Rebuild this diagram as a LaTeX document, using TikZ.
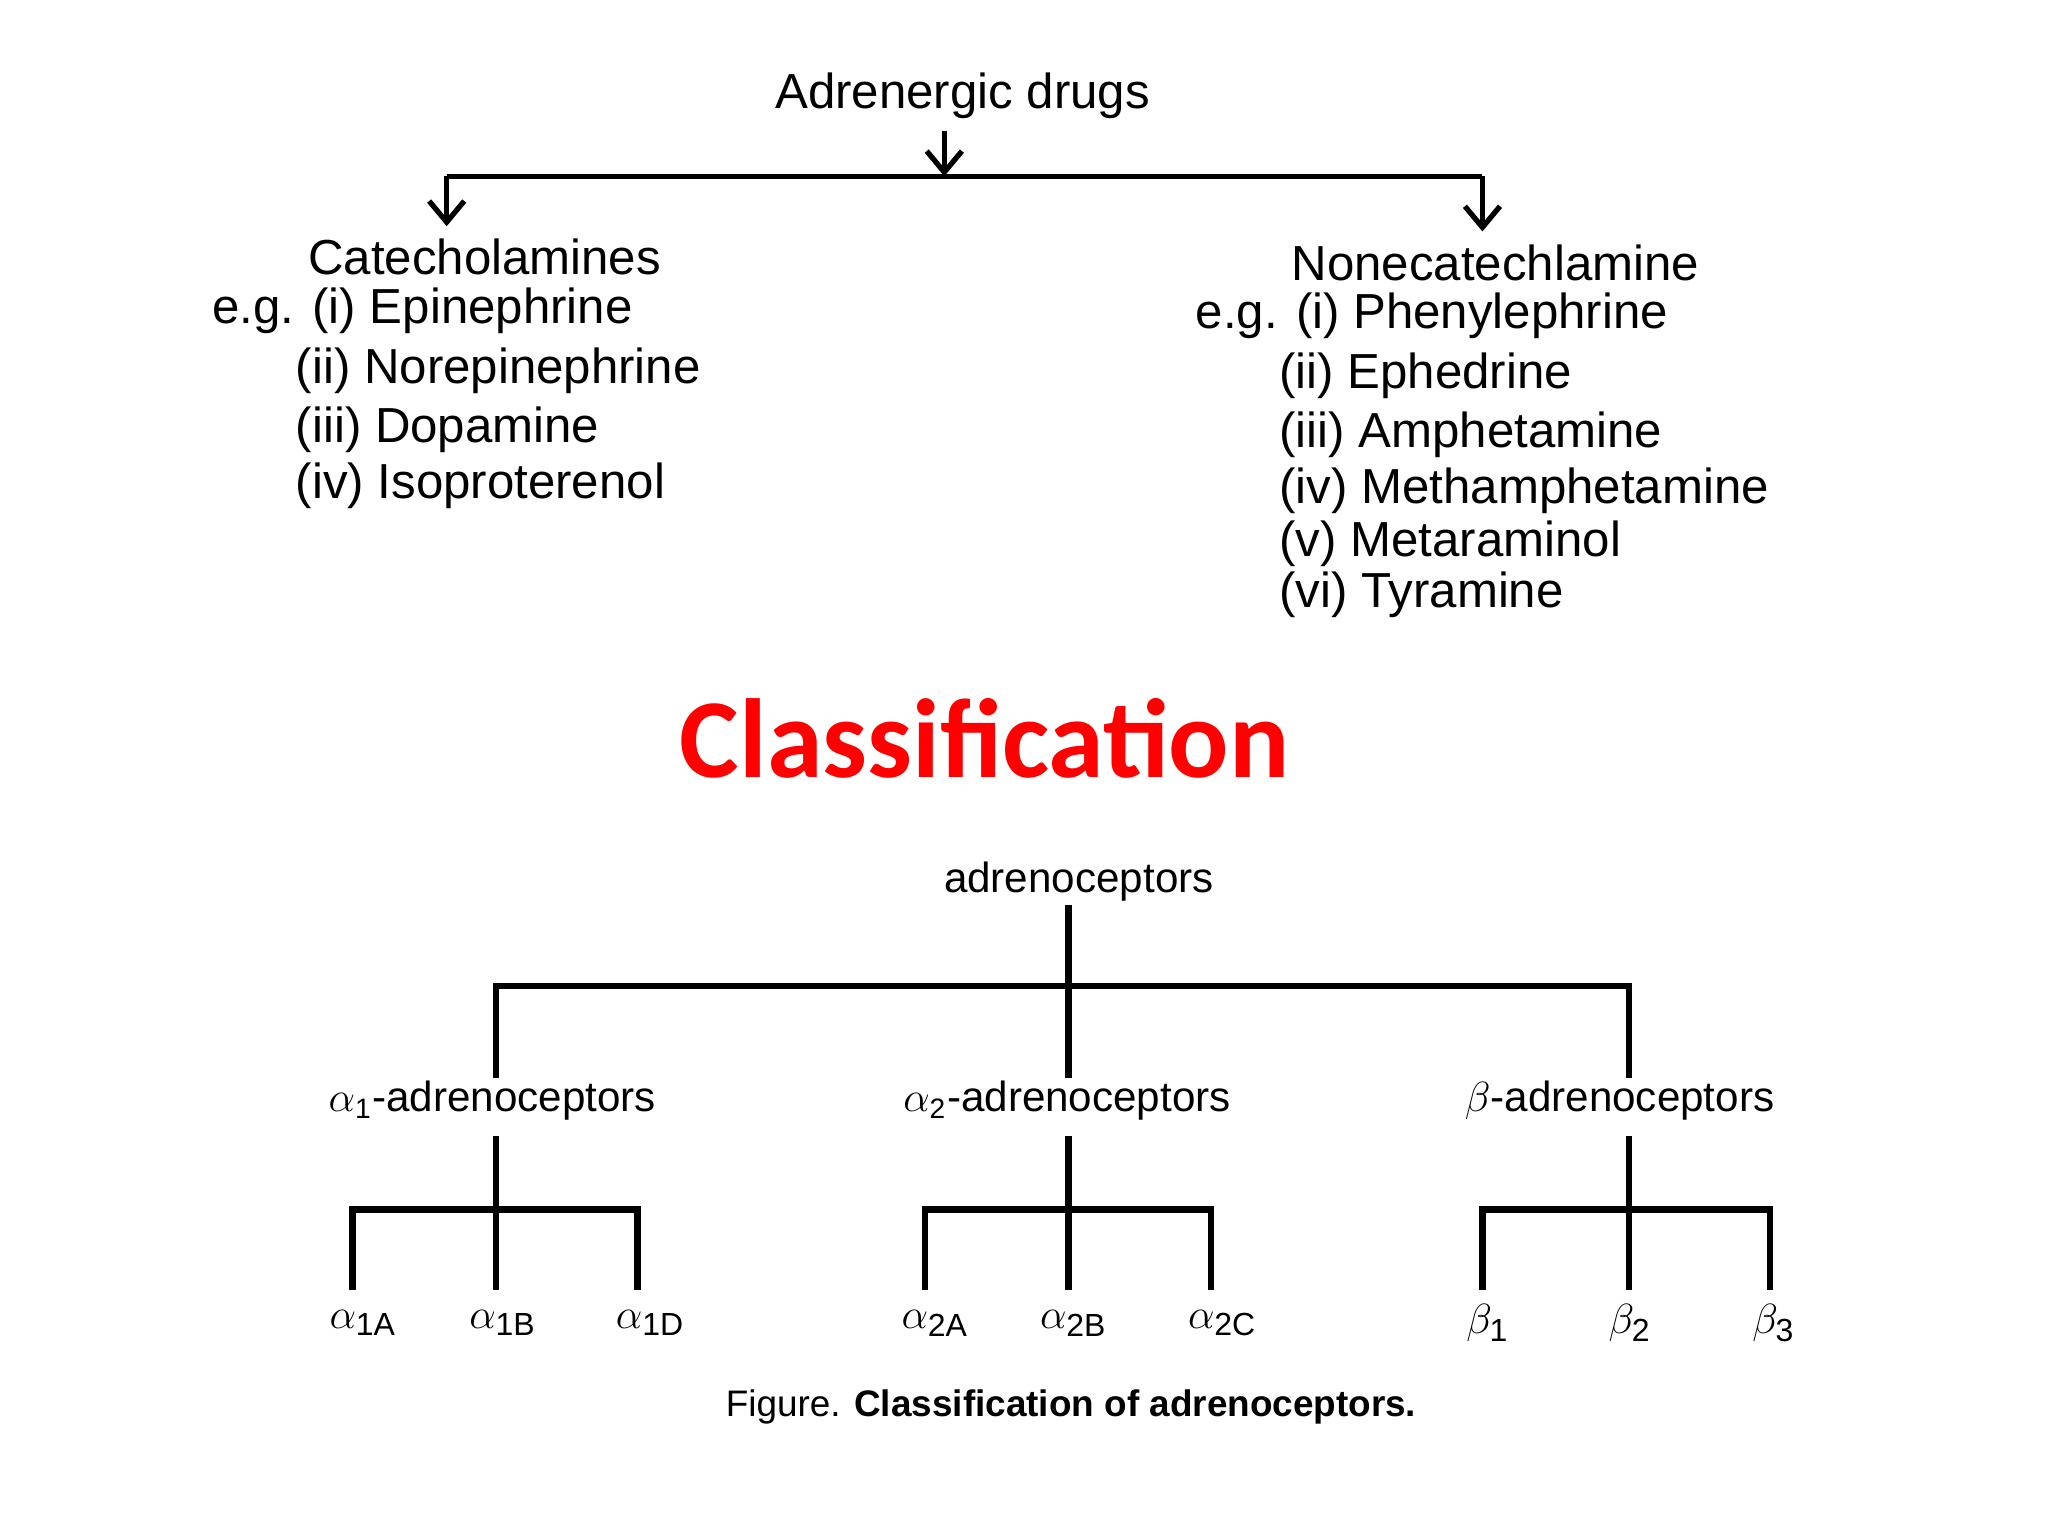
\documentclass[tikz,border=0pt]{standalone}
\usepackage{fontspec}
\setmainfont{Liberation Sans}
\newfontfamily\clf{Carlito}
\usetikzlibrary{arrows.meta}
\begin{document}
\begin{tikzpicture}[x=0.013061cm,y=-0.013061cm,
  top/.style={font=\fontsize{14}{16}\selectfont,inner sep=0pt},
  lst/.style={top,anchor=west},
  bot/.style={font=\fontsize{12}{14}\selectfont,inner sep=0pt},
  sub/.style={font=\fontsize{13}{15}\selectfont,inner sep=0pt},
  arr/.style={line width=1.5pt,-{Straight Barb[length=6pt,width=10pt]}},
  ln/.style={line width=1.8pt}]
\useasboundingbox (0,0) rectangle (1568,1176);
% top
\node[top] (ad) at (737,73) {Adrenergic drugs};
\coordinate (j) at (723,135);
\coordinate (l) at (342,135);
\coordinate (r) at (1135,135);
\draw[line width=1.5pt] (l) -- (r);
\draw[arr] (723,100) -- (j);
\node[top] (cat) at (371,197) {Catecholamines};
\node[top] (non) at (1145,201) {Nonecatechlamine};
\draw[arr,shorten >=3.5pt] (l) -- (cat.north -| l);
\draw[arr,shorten >=3.5pt] (r) -- (non.north -| r);
\node[lst] (c1) at (162,238) {e.g. (i) Epinephrine};
\node[lst] (c2) at (226,284) {(ii) Norepinephrine};
\node[lst] (c3) at (226,329) {(iii) Dopamine};
\node[lst] (c4) at (226,372) {(iv) Isoproterenol};
\node[lst] (n1) at (915,242) {e.g. (i) Phenylephrine};
\node[lst] (n2) at (979,288) {(ii) Ephedrine};
\node[lst] (n3) at (979,333) {(iii) Amphetamine};
\node[lst] (n4) at (979,376) {(iv) Methamphetamine};
\node[lst] (n5) at (979,416) {(v) Metaraminol};
\node[lst] (n6) at (979,455) {(vi) Tyramine};
% title
\node[font=\clf\bfseries\fontsize{32}{36}\selectfont,text=red] (cl) at (754,565) {Classification};
% bottom
\node[bot] (ar) at (826,675) {adrenoceptors};
\node[bot] (a1) at (377,843) {$\alpha_{\mathrm{1}}$-adrenoceptors};
\node[bot] (a2) at (817,843) {$\alpha_{\mathrm{2}}$-adrenoceptors};
\node[bot] (b) at (1240,843) {$\beta$-adrenoceptors};
\draw[ln] (818,693) -- (818,825);
\draw[ln] (380,825) -- (380,755) -- (1247,755) -- (1247,825);
\foreach \c/\l/\r/\n in {380/270/488/a1,818/708/927/a2,1247/1135/1355/b}{
  \draw[ln] (\c,870) -- (\c,988);
  \draw[ln] (\l,988) -- (\l,926) -- (\r,926) -- (\r,988);
}
\node[sub] (a1a) at (278,1013) {$\alpha_{\mathrm{1A}}$};
\node[sub] (a1b) at (385,1013) {$\alpha_{\mathrm{1B}}$};
\node[sub] (a1d) at (498,1013) {$\alpha_{\mathrm{1D}}$};
\node[sub] (a2a) at (716,1013) {$\alpha_{\mathrm{2A}}$};
\node[sub] (a2b) at (822,1013) {$\alpha_{\mathrm{2B}}$};
\node[sub] (a2c) at (936,1013) {$\alpha_{\mathrm{2C}}$};
\node[sub] (b1) at (1139,1013) {$\beta_{\mathrm{1}}$};
\node[sub] (b2) at (1248,1013) {$\beta_{\mathrm{2}}$};
\node[sub] (b3) at (1358,1013) {$\beta_{\mathrm{3}}$};
\node[font=\fontsize{10.5}{12}\selectfont] (cap) at (820,1077) {Figure. \textbf{Classification of adrenoceptors.}};
\end{tikzpicture}
\end{document}
